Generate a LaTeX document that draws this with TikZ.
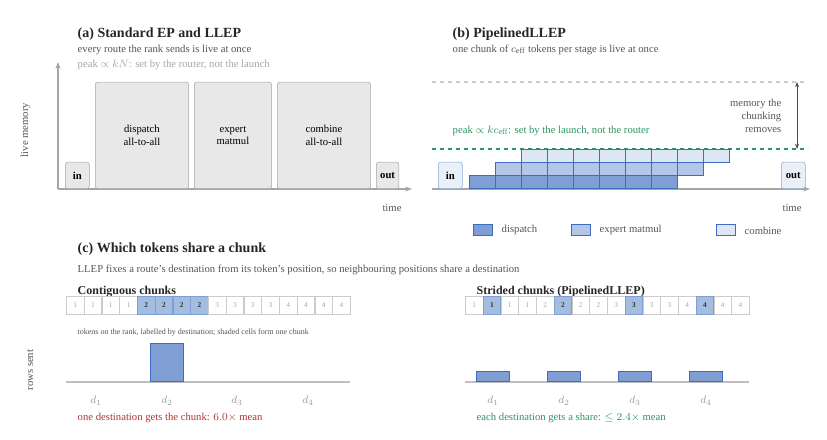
\documentclass[tikz,border=0pt]{standalone}
\usepackage{fontspec}
\setmainfont{Liberation Serif}
\usetikzlibrary{arrows.meta}
\definecolor{dispC}{HTML}{7F9FD4}
\definecolor{mmC}{HTML}{B3C6E8}
\definecolor{combC}{HTML}{DCE6F4}
\definecolor{edgeC}{HTML}{3E6CC0}
\definecolor{redC}{HTML}{B03535}
\definecolor{greenC}{HTML}{2E9462}
\definecolor{txtC}{HTML}{555555}
\tikzset{
  title/.style={anchor=base west,font=\fontsize{10.5}{12}\selectfont\bfseries,text=black!85},
  sub/.style={anchor=base west,font=\fontsize{8}{9}\selectfont,text=txtC},
  stage/.style={draw=gray!70,fill=gray!18,rounded corners=2pt,align=center,font=\fontsize{8}{9.5}\selectfont,inner sep=0pt},
  endbox/.style={draw=edgeC!60,fill=combC!60,rounded corners=2pt,font=\fontsize{8}{9}\selectfont\bfseries,inner sep=0pt},
  blk/.style={draw=edgeC,line width=0.6pt,inner sep=0pt},
  cell/.style={draw=gray!40,inner sep=0pt,font=\fontsize{5.5}{6}\selectfont,text=gray!70},
  axis/.style={draw=gray!70,line width=0.8pt,-{Stealth[length=5pt]}},
}
\begin{document}
\begin{tikzpicture}[x=0.75pt,y=-0.75pt]
  \useasboundingbox (0,0) rectangle (827,439);
  % panel (a)
  \node[title] (ta) at (73,37) {(a) Standard EP and LLEP};
  \node[sub] (sa) at (73,52) {every route the rank sends is live at once};
  \node[sub,text=gray!70] (pa) at (73,67) {peak $\propto kN$: set by the router, not the launch};
  \coordinate (oa) at (58,189);
  \coordinate (ya) at (58,62);
  \coordinate (xa) at (412,189);
  \path[axis] (oa) -- (ya);
  \path[axis] (oa) -- (xa);
  \node[sub,anchor=base] (timea) at (392,211) {time};
  \node[sub,anchor=base,rotate=90] (lm) at (28,130) {live memory};
  \node[stage,minimum width=18pt,minimum height=20pt,anchor=south west,font=\fontsize{8}{9}\selectfont\bfseries] (ina) at (65,189) {in};
  \node[stage,minimum width=70pt,minimum height=80pt,anchor=south west] (disp) at (95,189) {dispatch\\all-to-all};
  \node[stage,minimum width=58pt,minimum height=80pt,anchor=south west] (expm) at (194,189) {expert\\matmul};
  \node[stage,minimum width=70pt,minimum height=80pt,anchor=south west] (comb) at (277,189) {combine\\all-to-all};
  \node[stage,minimum width=17pt,minimum height=20pt,anchor=south west,font=\fontsize{8}{9}\selectfont\bfseries] (outa) at (376,189) {out};
  % panel (b)
  \node[title] (tb) at (448,37) {(b) PipelinedLLEP};
  \node[sub] (sb) at (448,52) {one chunk of $c_{\mathrm{eff}}$ tokens per stage is live at once};
  \coordinate (gl) at (432,82);
  \coordinate (gr) at (808,82);
  \coordinate (kl) at (432,149);
  \coordinate (kr) at (808,149);
  \draw[gray!40,dashed,line width=0.8pt] (gl) -- (gr);
  \draw[greenC,dashed,line width=0.9pt] (kl) -- (kr);
  \coordinate (mt) at (797,82);
  \coordinate (mb) at (797,149);
  \draw[black!70,{Stealth[length=4pt]}-{Stealth[length=4pt]}] (mt) -- (mb);
  \node[sub,anchor=east,align=right,font=\fontsize{8}{9.8}\selectfont] (rem) at (786,116) {memory the\\chunking\\removes};
  \node[sub,text=greenC] (pb) at (448,133) {peak $\propto kc_{\mathrm{eff}}$: set by the launch, not the router};
  \coordinate (ob) at (432,189);
  \coordinate (xb) at (810,189);
  \path[axis] (ob) -- (xb);
  \node[sub,anchor=base] (timeb) at (792,211) {time};
  \node[endbox,minimum width=18pt,minimum height=20pt,anchor=south west] (inb) at (438,189) {in};
  \node[endbox,minimum width=18pt,minimum height=20pt,anchor=south west] (outb) at (781,189) {out};
  \foreach \i in {0,...,7} {
    \node[blk,fill=dispC,minimum width=19.5pt,minimum height=9.75pt,anchor=south west] (d\i) at (469+26*\i,189) {};
    \node[blk,fill=mmC,minimum width=19.5pt,minimum height=9.75pt,anchor=south west] (m\i) at (495+26*\i,176) {};
    \node[blk,fill=combC,minimum width=19.5pt,minimum height=9.75pt,anchor=south west] (c\i) at (521+26*\i,163) {};
  }
  % legend
  \node[blk,fill=dispC,minimum width=14pt,minimum height=8pt] (ld) at (483,230) {};
  \node[sub,anchor=west] (ldt) at (497,230) {dispatch};
  \node[blk,fill=mmC,minimum width=14pt,minimum height=8pt] (lm2) at (581,230) {};
  \node[sub,anchor=west] (lmt) at (595,230) {expert matmul};
  \node[blk,fill=combC,minimum width=14pt,minimum height=8pt] (lc) at (726,230) {};
  \node[sub,anchor=west] (lct) at (740,231) {combine};
  % panel (c)
  \node[title] (tc) at (73,252) {(c) Which tokens share a chunk};
  \node[sub] (sc) at (73,272) {LLEP fixes a route's destination from its token's position, so neighbouring positions share a destination};
  \node[title,font=\fontsize{9}{10}\selectfont\bfseries] (cc) at (73,294) {Contiguous chunks};
  \node[title,font=\fontsize{9}{10}\selectfont\bfseries] (sc2) at (472,294) {Strided chunks (PipelinedLLEP)};
  \foreach \i in {0,...,15} {
    \pgfmathtruncatemacro{\dst}{int(\i/4)+1}
    \pgfmathtruncatemacro{\pos}{mod(\i,4)}
    \ifnum\dst=2
      \node[cell,fill=dispC!70,draw=dispC,text=black!80,minimum width=13.3pt,minimum height=13.5pt,anchor=north west] (a\i) at (66+17.75*\i,296) {\bfseries\dst};
    \else
      \node[cell,minimum width=13.3pt,minimum height=13.5pt,anchor=north west] (a\i) at (66+17.75*\i,296) {\dst};
    \fi
    \ifnum\pos=1
      \node[cell,fill=dispC!70,draw=dispC,text=black!80,minimum width=13.3pt,minimum height=13.5pt,anchor=north west] (b\i) at (465+17.75*\i,296) {\bfseries\dst};
    \else
      \node[cell,minimum width=13.3pt,minimum height=13.5pt,anchor=north west] (b\i) at (465+17.75*\i,296) {\dst};
    \fi
  }
  \node[sub,font=\fontsize{6}{7}\selectfont] (cap) at (73,334) {tokens on the rank, labelled by destination; shaded cells form one chunk};
  \node[sub,anchor=base,rotate=90] (rs) at (33,370) {rows sent};
  \coordinate (bl) at (66,382);
  \coordinate (br) at (350,382);
  \coordinate (sl) at (465,382);
  \coordinate (sr) at (749,382);
  \draw[gray!50,line width=0.9pt] (bl) -- (br);
  \draw[gray!50,line width=0.9pt] (sl) -- (sr);
  \node[blk,fill=dispC,minimum width=24.75pt,minimum height=28.5pt,anchor=south west] (bar2) at (150,382) {};
  \foreach \j/\xc/\xs in {1/96/493,2/167/564,3/237/635,4/308/706} {
    \node[font=\fontsize{8.5}{9}\selectfont,text=gray!80] (dc\j) at (\xc,401) {$d_{\j}$};
    \node[font=\fontsize{8.5}{9}\selectfont,text=gray!80] (ds\j) at (\xs,401) {$d_{\j}$};
    \node[blk,fill=dispC,minimum width=24.75pt,minimum height=7.5pt,anchor=south] (sb\j) at (\xs,382) {};
  }
  \node[sub,text=redC] (rc) at (73,420) {one destination gets the chunk: $6.0\times$ mean};
  \node[sub,text=greenC] (gc) at (472,420) {each destination gets a share: $\leq 2.4\times$ mean};
\end{tikzpicture}
\end{document}
